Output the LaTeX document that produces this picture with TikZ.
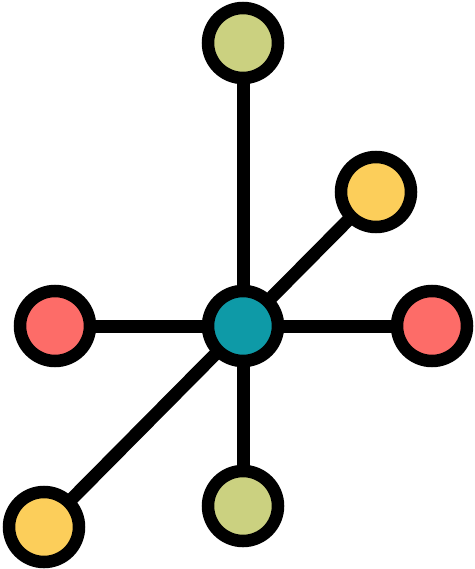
\documentclass[tikz,border=0pt]{standalone}
\usetikzlibrary{backgrounds}
\definecolor{cgreen}{RGB}{203,209,128}
\definecolor{cteal}{RGB}{14,154,167}
\definecolor{cyellow}{RGB}{252,206,90}
\definecolor{cred}{RGB}{253,108,104}
\tikzset{
  dot/.style={circle, draw=black, line width=12.5pt, minimum size=70pt, inner sep=0pt},
  link/.style={draw=black, line width=13pt}
}
\begin{document}
\begin{tikzpicture}[x=1pt,y=-1pt]
\useasboundingbox (0,0) rectangle (474,569);
\node[dot, fill=cteal] (c) at (243,326) {};
\node[dot, fill=cgreen] (t) at (243,43) {};
\node[dot, fill=cyellow] (ur) at (376,192) {};
\node[dot, fill=cred] (l) at (55,326) {};
\node[dot, fill=cred] (r) at (432,326) {};
\node[dot, fill=cgreen] (b) at (243,506) {};
\node[dot, fill=cyellow] (bl) at (44,527) {};
\begin{scope}[on background layer]
\draw[link] (c.center) -- (t.center);
\draw[link] (c.center) -- (b.center);
\draw[link] (c.center) -- (l.center);
\draw[link] (c.center) -- (r.center);
\draw[link] (bl.center) -- (ur.center);
\end{scope}
\end{tikzpicture}
\end{document}
